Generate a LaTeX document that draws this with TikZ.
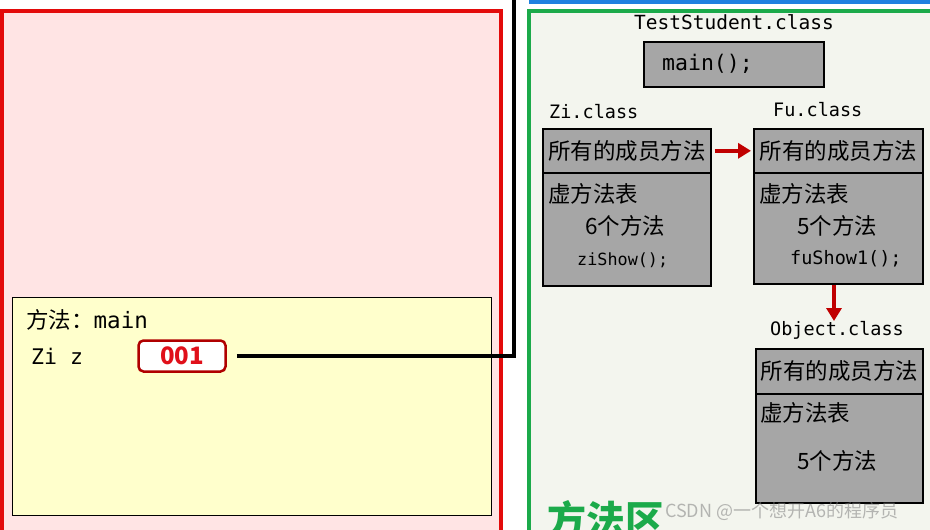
\documentclass[tikz,border=0pt]{standalone}
\usepackage{fontspec}
\setmainfont{Noto Sans CJK SC}
\newfontfamily\cjk{Noto Sans CJK SC}
\newfontfamily\mono{DejaVu Sans Mono}
\usetikzlibrary{arrows.meta}
\definecolor{pinkbg}{HTML}{FFE4E4}
\definecolor{redline}{HTML}{E30A0A}
\definecolor{greenline}{HTML}{1BAA4A}
\definecolor{greenbg}{HTML}{F3F5EE}
\definecolor{bluebar}{HTML}{1F80E0}
\definecolor{boxgrey}{HTML}{A6A6A6}
\definecolor{yellowbg}{HTML}{FFFFCC}
\definecolor{arrowred}{HTML}{C00000}
\definecolor{numred}{HTML}{E0101A}
\definecolor{numborder}{HTML}{B00000}
\tikzset{
  lbl/.style={inner sep=0, font=\mono\fontsize{18.5}{20}\selectfont},
  cjkt/.style={inner sep=0, font=\cjk\fontsize{22.5}{26}\selectfont},
  gbox/.style={draw=black, line width=1.6pt, fill=boxgrey},
  redarrow/.style={draw=arrowred, line width=4pt, -{Triangle[length=13pt,width=15pt]}},
}
\begin{document}
\begin{tikzpicture}[x=1pt,y=-1pt]
\useasboundingbox (0,0) rectangle (930,530);
\fill[white] (0,0) rectangle (930,530);
% heap (left red area)
\draw[redline, line width=4pt, fill=pinkbg] (2,11) rectangle (501,545);
% method area (green)
\draw[greenline, line width=4pt, fill=greenbg] (529,11) rectangle (945,545);
\draw[bluebar, line width=5pt] (529,1) -- (935,1);
% stack frame
\node[draw=black, line width=1pt, fill=yellowbg, minimum width=479pt, minimum height=218pt, anchor=north west, inner sep=0] (frame) at (12,297) {};
\node[cjkt, anchor=west] (mlabel) at (26,320) {方法：{\mono main}};
\node[inner sep=0, anchor=west, font=\mono\fontsize{21.5}{24}\selectfont] (ziz) at (31,356) {Zi z};
\node[draw=numborder, line width=2.5pt, fill=white, rounded corners=5pt, minimum width=87pt, minimum height=31pt, inner sep=0, font=\fontsize{24}{26}\selectfont\bfseries, text=numred] (n001) at (182,356) {001};
\coordinate (top) at (514,-4);
\draw[black, line width=3.5pt, shorten <=10pt] (n001.east) -- (514,356) -- (top);
% TestStudent
\node[lbl, font=\mono\fontsize{19.5}{22}\selectfont] (ts) at (734,22) {TestStudent.class};
\node[gbox, minimum width=180pt, minimum height=45pt, anchor=north west, inner sep=0] (mainbox) at (643,41) {};
\node[inner sep=0, anchor=west, font=\mono\fontsize{21.5}{24}\selectfont] (maintext) at (662,64) {main();};
% Zi class
\node[lbl, anchor=west] (zil) at (549,112) {Zi.class};
\node[gbox, minimum width=168pt, minimum height=44pt, anchor=north west, inner sep=0] (zih) at (542,128) {};
\node[gbox, minimum width=168pt, minimum height=113pt, anchor=north west, inner sep=0] (zib) at (542,172) {};
\node[cjkt] (zihT) at (zih.center) {所有的成员方法};
\node[cjkt, anchor=west] (zivt) at (548,194) {虚方法表};
\node[cjkt, anchor=west] (zi6) at (585,226) {6个方法};
\node[inner sep=0, anchor=west, font=\mono\fontsize{16.8}{19}\selectfont] (zishow) at (577,260) {ziShow();};
% Fu class
\node[lbl, anchor=west] (ful) at (773,110) {Fu.class};
\node[gbox, minimum width=169pt, minimum height=44pt, anchor=north west, inner sep=0] (fuh) at (753,128) {};
\node[gbox, minimum width=169pt, minimum height=111pt, anchor=north west, inner sep=0] (fub) at (753,172) {};
\node[cjkt] (fuhT) at (fuh.center) {所有的成员方法};
\node[cjkt, anchor=west] (fuvt) at (759,194) {虚方法表};
\node[cjkt, anchor=west] (fu5) at (797,226) {5个方法};
\node[inner sep=0, anchor=west, font=\mono\fontsize{18.5}{20}\selectfont] (fushow) at (790,259) {fuShow1();};
% Object class
\node[lbl] (objl) at (837,330) {Object.class};
\node[gbox, minimum width=167pt, minimum height=45pt, anchor=north west, inner sep=0] (obh) at (755,348) {};
\node[gbox, minimum width=167pt, minimum height=109pt, anchor=north west, inner sep=0] (obb) at (755,393) {};
\node[cjkt] (obhT) at (obh.center) {所有的成员方法};
\node[cjkt, anchor=west] (obvt) at (760,413) {虚方法表};
\node[cjkt, anchor=west] (ob5) at (797,461) {5个方法};
% arrows
\coordinate (objtop) at (834,321);
\draw[redarrow] ([xshift=3pt]zih.east) -- ([xshift=-2pt]fuh.west);
\draw[redarrow] (fub.south -| objtop) -- (objtop);
% method area title
\node[inner sep=0, anchor=base west, text=greenline, font=\cjk\fontsize{39}{42}\selectfont\bfseries] (mtitle) at (547,534) {方法区};
% watermark
\node[inner sep=0, anchor=west, text=gray, opacity=0.55, font=\fontsize{18}{20}\selectfont] (wm) at (665,511) {CSDN @一个想开A6的程序员};
\end{tikzpicture}
\end{document}
